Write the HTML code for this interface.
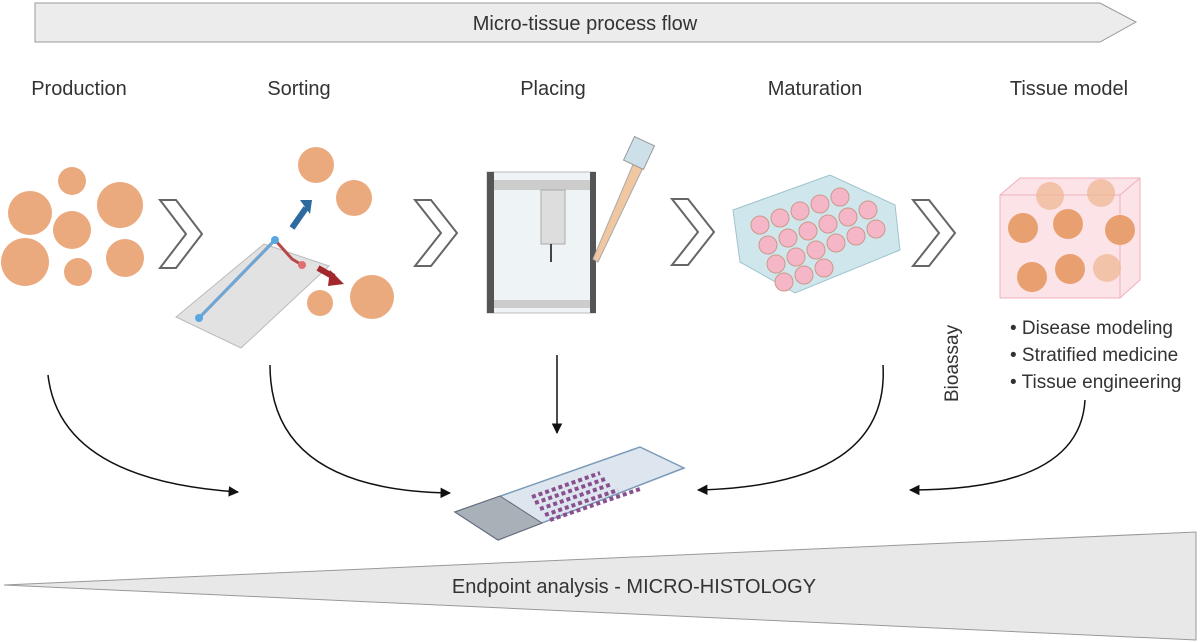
<!DOCTYPE html>
<html><head><style>body{margin:0;background:#fff}svg{display:block}text{font-family:"Liberation Sans",sans-serif;fill:#333}</style></head>
<body>
<svg width="1200" height="642" viewBox="0 0 1200 642">
<defs>
<marker id="ah" viewBox="0 0 10 10" refX="9" refY="5" markerWidth="7" markerHeight="7" orient="auto"><path d="M0,0L10,5L0,10z" fill="#111"/></marker>
</defs>
<polygon points="35,3 1100,3 1136,22 1100,42 35,42" fill="#ececec" stroke="#999" stroke-width="1"/>
<text x="585" y="30" font-size="20" text-anchor="middle">Micro-tissue process flow</text>
<polygon points="4,585 1196,532 1196,640" fill="#e8e8e8" stroke="#999" stroke-width="1"/>
<text x="634" y="593" font-size="20" text-anchor="middle">Endpoint analysis - MICRO-HISTOLOGY</text>
<g font-size="20" text-anchor="middle">
<text x="79" y="95">Production</text><text x="299" y="95">Sorting</text><text x="553" y="95">Placing</text><text x="815" y="95">Maturation</text><text x="1069" y="95">Tissue model</text>
</g>
<g fill="#eba97e">
<circle cx="30" cy="213" r="22"/><circle cx="72" cy="181" r="14"/><circle cx="120" cy="205" r="23"/><circle cx="72" cy="230" r="19"/><circle cx="25" cy="262" r="24"/><circle cx="125" cy="258" r="19"/><circle cx="78" cy="272" r="14"/>
<circle cx="316" cy="165" r="18"/><circle cx="354" cy="198" r="18"/><circle cx="320" cy="303" r="13"/><circle cx="372" cy="297" r="22"/>
</g>
<g fill="#fff" stroke="#666" stroke-width="2">
<polygon points="160,200 176,200 202,234 176,268 160,268 186,234"/>
<polygon points="415,200 431,200 457,233 431,266 415,266 441,233"/>
<polygon points="672,199 688,199 714,232 688,265 672,265 698,232"/>
<polygon points="913,200 929,200 955,233 929,266 913,266 939,233"/>
</g>
<polygon points="176,317 264,244 329,266 241,348" fill="#e2e2e2" stroke="#bbb"/>
<path d="M199,318 L275,240 L292,259 L302,265" stroke="#b84848" stroke-width="3" fill="none"/>
<path d="M199,318 L275,240" stroke="#6aa8d8" stroke-width="3" fill="none"/>
<circle cx="199" cy="318" r="4" fill="#5aa7e0"/><circle cx="275" cy="240" r="4" fill="#5aa7e0"/><circle cx="302" cy="265" r="4" fill="#e07070"/>
<path d="M292,228 L306,208" stroke="#2d6a9f" stroke-width="6"/>
<polygon points="300,200 312,200 310,214" fill="#2d6a9f"/>
<path d="M318,268 L334,277" stroke="#a3282c" stroke-width="6"/>
<polygon points="330,270 344,284 328,286" fill="#a3282c"/>
<rect x="487" y="172" width="108" height="141" fill="#eef3f6" stroke="#bbb"/>
<rect x="487" y="172" width="7" height="141" fill="#555"/><rect x="590" y="172" width="6" height="141" fill="#555"/>
<rect x="494" y="180" width="96" height="10" fill="#ccc"/><rect x="494" y="300" width="96" height="8" fill="#ccc"/>
<rect x="541" y="190" width="24" height="54" fill="#ddd" stroke="#aaa"/>
<line x1="551" y1="244" x2="551" y2="262" stroke="#444" stroke-width="2"/>
<polygon points="640,148 650,153 598,262 593,259" fill="#f0c7a0" stroke="#aaa"/>
<rect x="628" y="140" width="22" height="26" fill="#cde0ea" stroke="#999" transform="rotate(25 639 153)"/>
<polygon points="733,210 830,175 895,205 900,250 795,293 740,262" fill="#cfe6ec" stroke="#9fc3cc"/>
<g fill="#f5b7c8" stroke="#c98"><circle cx="760" cy="225" r="9"/><circle cx="780" cy="218" r="9"/><circle cx="800" cy="211" r="9"/><circle cx="820" cy="204" r="9"/><circle cx="840" cy="197" r="9"/>
<circle cx="768" cy="245" r="9"/><circle cx="788" cy="238" r="9"/><circle cx="808" cy="231" r="9"/><circle cx="828" cy="224" r="9"/><circle cx="848" cy="217" r="9"/><circle cx="868" cy="210" r="9"/>
<circle cx="776" cy="264" r="9"/><circle cx="796" cy="257" r="9"/><circle cx="816" cy="250" r="9"/><circle cx="836" cy="243" r="9"/><circle cx="856" cy="236" r="9"/><circle cx="876" cy="229" r="9"/>
<circle cx="784" cy="282" r="9"/><circle cx="804" cy="275" r="9"/><circle cx="824" cy="268" r="9"/></g>
<polygon points="1000,195 1020,178 1140,178 1140,280 1120,298 1000,298" fill="#fbe3e8" stroke="#f0b0bc"/>
<path d="M1000,195 L1120,195 L1140,178 M1120,195 L1120,298" stroke="#f0b0bc" fill="none"/>
<g fill="#f0b894" opacity="0.75"><circle cx="1050" cy="196" r="14"/><circle cx="1101" cy="193" r="14"/><circle cx="1107" cy="268" r="14"/></g>
<g fill="#e9a070"><circle cx="1023" cy="228" r="15"/><circle cx="1068" cy="224" r="15"/><circle cx="1120" cy="230" r="15"/><circle cx="1032" cy="277" r="15"/><circle cx="1070" cy="269" r="15"/></g>
<text transform="translate(958,402) rotate(-90)" font-size="19">Bioassay</text>
<g font-size="19"><text x="1010" y="334">• Disease modeling</text><text x="1010" y="361">• Stratified medicine</text><text x="1010" y="388">• Tissue engineering</text></g>
<g fill="none" stroke="#111" stroke-width="1.5" marker-end="url(#ah)">
<path d="M48,375 Q60,480 238,492"/>
<path d="M270,365 Q270,490 450,493"/>
<path d="M557,355 L557,433"/>
<path d="M883,365 Q890,485 698,490"/>
<path d="M1085,400 Q1080,490 910,490"/>
</g>
<polygon points="455,512 640,447 684,468 498,540" fill="#dde6ee" stroke="#7a9ab8" stroke-width="1.5"/>
<polygon points="455,512 500,496 542,523 498,540" fill="#a8b0b8" stroke="#667"/>
<g stroke="#8a4f8f" stroke-width="4" stroke-dasharray="4 3">
<line x1="532" y1="497" x2="600" y2="473"/><line x1="535" y1="503" x2="605" y2="479"/><line x1="540" y1="509" x2="612" y2="484"/><line x1="545" y1="515" x2="618" y2="490"/><line x1="550" y1="520" x2="640" y2="489"/>
</g>
</svg>
</body></html>
